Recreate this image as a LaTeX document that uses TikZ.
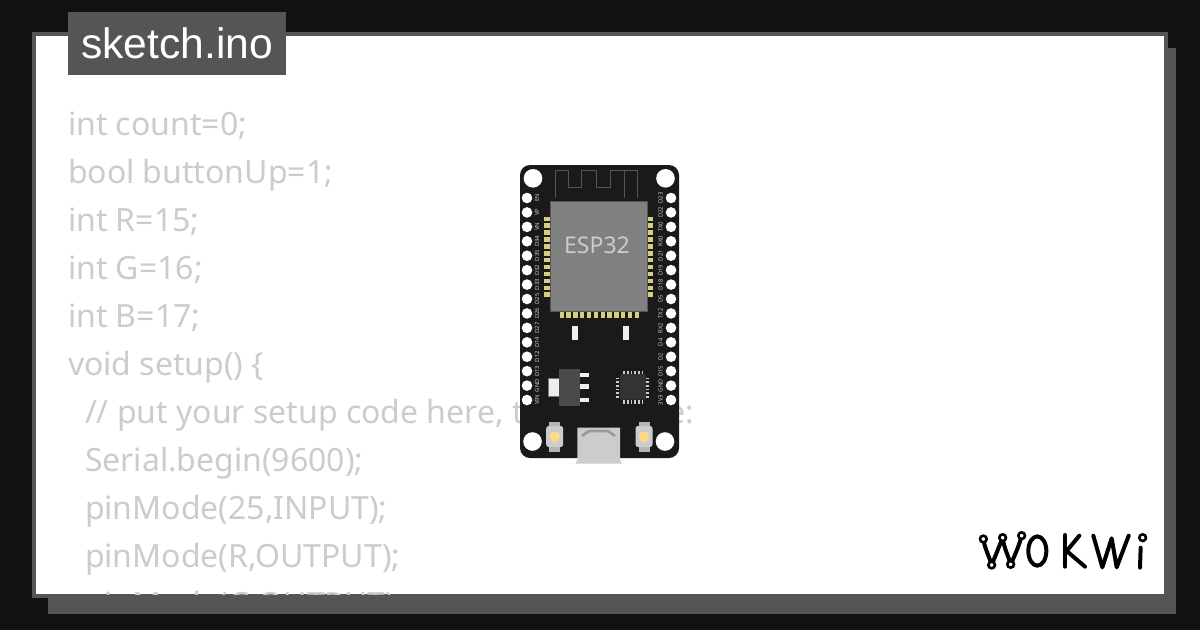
\documentclass[tikz,border=0pt]{standalone}
\usepackage{fontspec}
\setmainfont{Noto Sans}
\newfontfamily\titlefont{Liberation Sans}
\definecolor{bgdark}{HTML}{111111}
\definecolor{cardgray}{HTML}{555555}
\definecolor{codegray}{HTML}{CCCCCC}
\definecolor{boardblack}{HTML}{1A1A1A}
\definecolor{padgold}{HTML}{D9CE7E}
\definecolor{chipgray}{HTML}{808080}
\definecolor{ledtop}{HTML}{EEEEEE}
\definecolor{ledlow}{HTML}{F7EFE0}
\definecolor{regbody}{HTML}{4A4A4A}
\definecolor{qfnbody}{HTML}{333333}
\definecolor{btnedge}{HTML}{B5B5B5}
\definecolor{btnlamp}{HTML}{FFD98A}
\definecolor{usbarc}{HTML}{999999}
\definecolor{tabedge}{HTML}{777777}
\tikzset{
  codeline/.style={anchor=base west,inner sep=0pt,outer sep=0pt,text=codegray,font=\fontsize{32}{32}\selectfont},
  pinhole/.style={fill=white,draw=none},
  pinlabel/.style={rotate=90,inner sep=0pt,text=codegray,font=\fontsize{5.8}{5.8}\selectfont},
  sidepad/.style={fill=padgold,draw=none},
  logoline/.style={draw=black,line width=4pt,line cap=round,line join=round},
  logodot/.style={draw=black,fill=white,line width=2.6pt},
  qfnpad/.style={fill=codegray,draw=none},
}
\begin{document}
\begin{tikzpicture}[x=1pt,y=-1pt]
\useasboundingbox (0,0) rectangle (1200,630);
\fill[bgdark] (0,0) rectangle (1200,630);
% shadow and card
\fill[cardgray] (48,48) rectangle (1176,614);
\fill[cardgray] (32,32) rectangle (1168,598);
\fill[white] (36,36) rectangle (1164,594);
% code
\begin{scope}
\clip (36,36) rectangle (1164,594);
\node[codeline] (c1) at (68,135) {int count=0;};
\node[codeline] (c2) at (68,183) {bool buttonUp=1;};
\node[codeline] (c3) at (68,231) {int R=15;};
\node[codeline] (c4) at (68,279) {int G=16;};
\node[codeline] (c5) at (68,327) {int B=17;};
\node[codeline] (c6) at (68,375) {void setup() \{};
\node[codeline] (c7) at (85,423) {// put your setup code here, to run once:};
\node[codeline] (c8) at (85,471) {Serial.begin(9600);};
\node[codeline] (c9) at (85,519) {pinMode(25,INPUT);};
\node[codeline] (c10) at (85,567) {pinMode(R,OUTPUT);};
\node[codeline] (c11) at (85,615) {pinMode(G,OUTPUT);};
\end{scope}
% title tab
\fill[cardgray] (68,12) rectangle (286,75);
\node[anchor=base,inner sep=0pt,text=white,font=\titlefont\fontsize{42.6}{42.6}\selectfont] (title) at (177,58) {sketch.ino};
% board
\fill[boardblack,rounded corners=10pt] (520,165) rectangle (679,458);
% mounting holes
\foreach \x/\y in {533/178.3,665.5/178.3,532.5/441.5,665/441.5}
  \fill[white] (\x,\y) circle (9.3);
% pin holes and labels
\foreach \i/\l in {0/EN,1/VP,2/VN,3/D34,4/D35,5/D32,6/D33,7/D25,8/D26,9/D27,10/D14,11/D12,12/D13,13/GND,14/VIN}{
  \fill[pinhole] (527,198+14.43*\i) circle (5.3);
  \node[pinlabel] at (537,198+14.43*\i) {\l};
}
\foreach \i/\l in {0/D23,1/D22,2/TX0,3/RX0,4/D21,5/D19,6/D18,7/D5,8/TX2,9/RX2,10/D4,11/D2,12/D15,13/GND,14/3V3}{
  \fill[pinhole] (671,198+14.43*\i) circle (5.3);
  \node[pinlabel] at (660.5,198+14.43*\i) {\l};
}
% antenna
\draw[cardgray,line width=1pt,line join=miter]
  (555,198) -- (555,170) -- (568.3,170) -- (568.3,187.3) -- (581.7,187.3) -- (581.7,170)
  -- (596,170) -- (596,187.3) -- (610,187.3) -- (610,170) -- (637.3,170) -- (637.3,198);
\draw[cardgray,line width=1pt] (624,170) -- (624,198);
% side pads
\foreach \i in {0,...,11}{
  \fill[sidepad] (544,216.5+6.9*\i) rectangle (550,221+6.9*\i);
  \fill[sidepad] (647.5,216.5+6.9*\i) rectangle (653.3,221+6.9*\i);
  \fill[sidepad] (559.6+6.83*\i,311.5) rectangle (564+6.83*\i,318);
}
% chip
\fill[chipgray,draw=cardgray,line width=.6pt] (550,201.7) rectangle (647.5,311);
\node[inner sep=0pt,anchor=base,text=codegray,font=\fontsize{23}{23}\selectfont] (esp) at (597,253) {ESP32};
% small LEDs
\fill[ledtop] (572,326) rectangle (577.7,340);
\fill[ledlow] (572,331) rectangle (577.7,339);
\fill[ledtop] (623.3,326) rectangle (629.3,340);
\fill[ledlow] (623.3,331) rectangle (629.3,339);
% regulator
\fill[ledtop,draw=tabedge] (548.5,378.3) rectangle (559,395.7);
\fill[regbody] (559,369.3) rectangle (580,406);
\foreach \y in {372.5,384.3,397.7}
  \fill[ledtop] (580,\y) rectangle (589.3,\y+4.5);
% QFN
\fill[qfnbody,rounded corners=1.5pt] (620,374) rectangle (646,399.5);
\foreach \i in {0,...,5}{
  \fill[qfnpad] (623.2+3.67*\i,370.6) rectangle (625+3.67*\i,374);
  \fill[qfnpad] (623.2+3.67*\i,400) rectangle (625+3.67*\i,403.6);
  \fill[qfnpad] (616,377.5+3.67*\i) rectangle (619.3,379.3+3.67*\i);
  \fill[qfnpad] (646.3,377.5+3.67*\i) rectangle (649,379.3+3.67*\i);
}
% buttons
\foreach \x in {554.7,644}{
  \fill[btnedge] (\x-5.5,422) rectangle (\x+5.5,451.5);
  \fill[codegray,rounded corners=2.5pt] (\x-8.5,426) rectangle (\x+8.5,447);
  \fill[btnlamp] (\x,436.7) circle (5.3);
}
% USB
\fill[codegray] (577.3,427.7) -- (620,427.7) -- (620,460) -- (622,463.5) -- (575.5,463.5) -- (577.3,460) -- cycle;
\draw[usbarc,line width=2.6pt,line join=round]
  (582,436) -- (588,431.5) -- (591,431) -- (606,431) -- (609,431.5) -- (615,436);
% WOKWI logo
\begin{scope}[shift={(960,515)},scale=1/3]
\draw[logoline] (70,72) .. controls (74,100) and (88,125) .. (95,150) -- (128,68) .. controls (132,100) and (146,125) .. (152,148) .. controls (165,120) and (178,90) .. (185,62);
\foreach \x/\y in {70/72,128/68,185/62,95/150,152/148}
  \draw[logodot] (\x,\y) circle (10);
\draw[logoline] (232,108) ellipse (27 and 44);
\draw[logoline] (315,60) -- (315,155);
\draw[logoline] (358,62) -- (320,108) -- (375,155);
\draw[logoline] (400,62) -- (427,157) -- (455,70) -- (470,157) -- (506,62);
\draw[logoline] (542,98) -- (540,158);
\draw[logodot] (548,68) circle (10);
\end{scope}
\end{tikzpicture}
\end{document}
